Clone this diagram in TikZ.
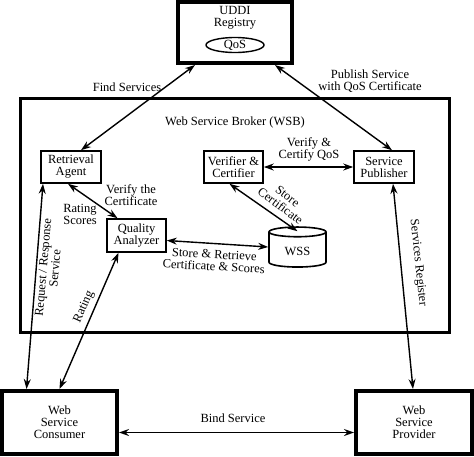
\documentclass[tikz,border=0pt]{standalone}
\usepackage{fontspec}
\setmainfont{Liberation Serif}
\usetikzlibrary{arrows.meta,shapes.geometric}

\tikzset{
    unit/.style={draw, line width=1.6pt, minimum width=60pt, minimum height=32pt, align=center, inner sep=1pt},
    outer/.style={draw, line width=4pt, align=center},
    link/.style={<->, line width=1.4pt},
    lbl/.style={align=center, inner sep=1pt}
}

\begin{document}
\begin{tikzpicture}[x=1pt, y=-1pt, >={Stealth[length=10pt,width=7pt]}, font=\fontsize{12.5}{12}\selectfont]
    \useasboundingbox (0,0) rectangle (474,456);

    % registry and broker
    \node[outer, minimum width=114pt, minimum height=61pt] (uddi) at (235,32.5) {};
    \node[lbl] (uddititle) at (235,18) {UDDI\\Registry};
    \node[draw, ellipse, line width=1.4pt, minimum width=58pt, minimum height=15pt, inner sep=0pt] (qos) at (235,45) {QoS};
    \node[draw, line width=3pt, minimum width=429pt, minimum height=234pt] (wsb) at (235,215.5) {};
    \node[lbl] (wsbtitle) at (235,122) {Web Service Broker (WSB)};

    % units inside the broker
    \node[unit] (ret) at (71,167) {Retrieval\\Agent};
    \node[unit, minimum width=59pt] (ver) at (233.5,167) {Verifier \&\\Certifier};
    \node[unit] (pub) at (384,167) {Service\\Publisher};
    \node[unit, minimum width=59pt, minimum height=33pt] (qa) at (136.5,235.5) {Quality\\Analyzer};
    \node[draw, cylinder, shape border rotate=90, aspect=0.3, line width=1.6pt, minimum width=57pt, minimum height=40pt] (wss) at (297.5,251) {WSS};

    % consumer and provider
    \node[outer, minimum width=115pt, minimum height=63pt] (con) at (59.5,422.5) {Web\\Service\\Consumer};
    \node[outer, minimum width=116pt, minimum height=63pt] (pro) at (414,422.5) {Web\\Service\\Provider};

    % connectors
    \draw[link] ([xshift=-40pt]uddi.south) -- ([xshift=10pt]ret.north);
    \draw[link] ([xshift=40pt]uddi.south) -- ([xshift=8pt]pub.north);
    \draw[link] (ver.east) -- (pub.west);
    \draw[link] ([xshift=-3pt]ret.south) -- ([xshift=-19pt]qa.north);
    \draw[link] ([yshift=-5pt]qa.east) -- ([yshift=4pt]wss.west);
    \draw[link] ([xshift=-4pt]ver.south) -- ([yshift=-5pt]wss.north);
    \draw[link] ([xshift=-28pt]ret.south) -- ([xshift=-33pt]con.north);
    \draw[link] ([xshift=-18pt]qa.south) -- (con.north);
    \draw[link] ([xshift=9pt]pub.south) -- ([xshift=-1pt]pro.north);
    \draw[link] ([yshift=-10pt]con.east) -- ([yshift=-10pt]pro.west);

    % connector labels
    \node[lbl] (findlbl) at (127,87) {Find Services};
    \node[lbl] (publbl) at (370,81.5) {Publish Service\\with QoS Certificate};
    \node[lbl] (certlbl) at (309,149) {Verify \&\\Certify QoS};
    \node[lbl] (chklbl) at (131,195.5) {Verify the\\Certificate};
    \node[lbl] (scorelbl) at (80,214.5) {Rating\\Scores};
    \node[lbl, rotate=-3] (storelbl) at (214,260.5) {Store \& Retrieve\\Certificate \& Scores};
    \node[lbl, rotate=-37] (storecert) at (284,201) {Store\\Certificate};
    \node[lbl, rotate=85] (reqlbl) at (49,268) {Request / Response\\Service};
    \node[lbl, rotate=66] (ratelbl) at (84,307) {Rating};
    \node[lbl, rotate=-84] (reglbl) at (418,263) {Services Register};
    \node[lbl] (bindlbl) at (233,418) {Bind Service};

\end{tikzpicture}
\end{document}
